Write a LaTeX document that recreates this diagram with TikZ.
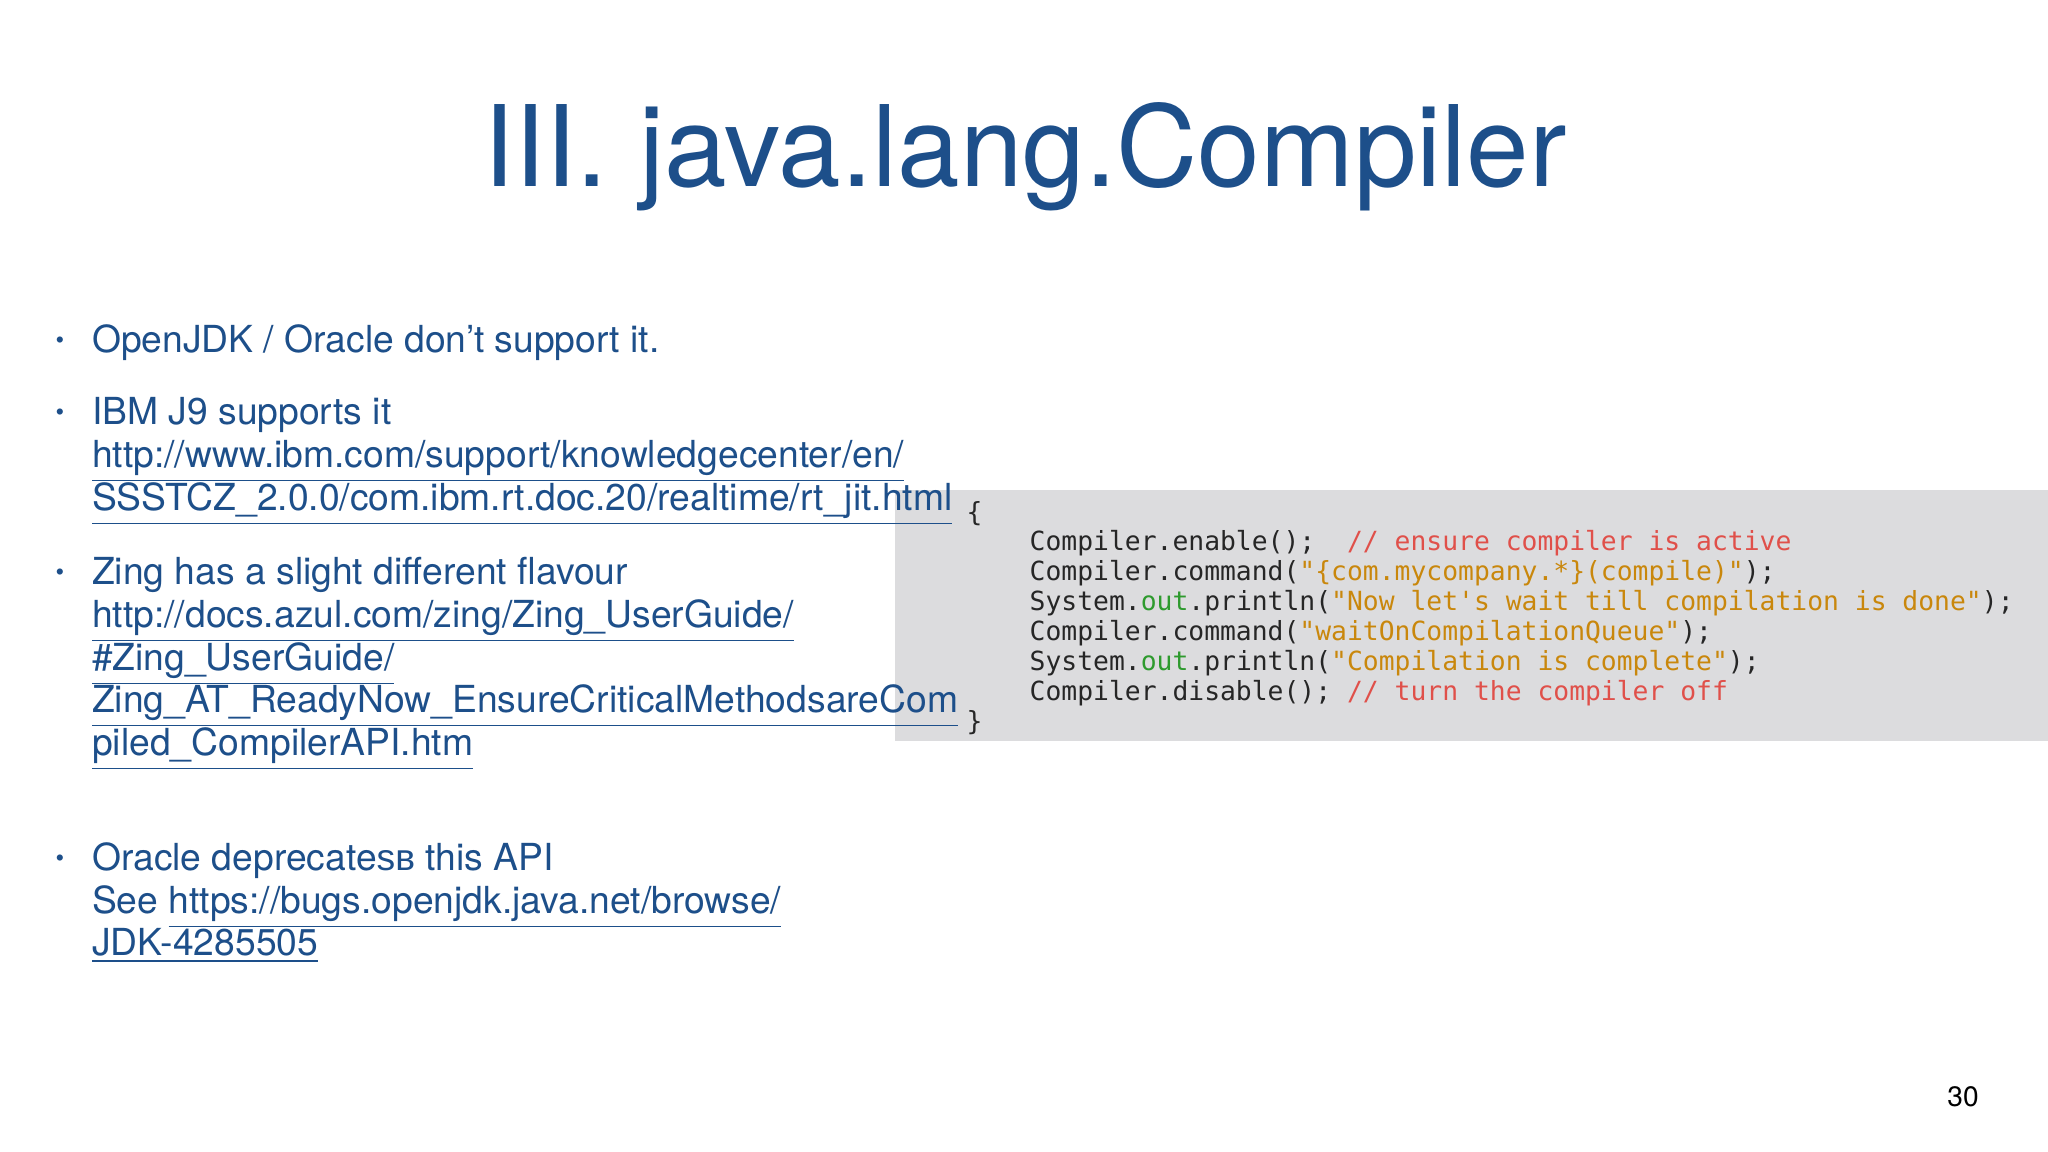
\documentclass[tikz,border=0pt]{standalone}
\usepackage{fontspec}
\setmainfont{TeX Gyre Heros}
\newfontfamily\cyrfont{Liberation Sans}
\setmonofont{DejaVu Sans Mono}
\definecolor{tblue}{HTML}{1D4F8A}
\definecolor{cred}{HTML}{E0504A}
\definecolor{corange}{HTML}{C9870C}
\definecolor{cgreen}{HTML}{2E9A2E}
\definecolor{boxgray}{HTML}{DCDCDE}
\begin{document}
\begin{tikzpicture}[x=1cm,y=-1cm,
  txt/.style={anchor=mid west,inner sep=0,font=\fontsize{10.6pt}{12pt}\selectfont,text=tblue},
  bul/.style={anchor=center,inner sep=0,font=\fontsize{7pt}{8pt}\selectfont,text=tblue},
  code/.style={anchor=mid west,inner sep=0,font=\fontsize{7.5pt}{9pt}\ttfamily,text=black!85}]
\useasboundingbox[fill=white] (0,0) rectangle (20.48,11.52);
\fill[boxgray] (8.95,4.90) rectangle (20.48,7.41);
\node[anchor=center,inner sep=0,font=\fontsize{32pt}{38pt}\selectfont,text=tblue] (title) at (10.25,1.57) {III. java.lang.Compiler};
% bullets
\node[bul] (b1) at (0.60,3.43) {•};
\node[txt] (t1) at (0.914,3.435) {OpenJDK / Oracle don’t support it.};
\node[bul] (b2) at (0.60,4.15) {•};
\node[txt] (t2) at (0.914,4.15) {IBM J9 supports it};
\node[txt] (t3) at (0.914,4.58) {\underline{http://www.ibm.com/support/knowledgecenter/en/}};
\node[txt] (t4) at (0.914,5.01) {\underline{SSSTCZ\_2.0.0/com.ibm.rt.doc.20/realtime/rt\_jit.html}};
\node[bul] (b3) at (0.60,5.75) {•};
\node[txt] (t5) at (0.914,5.75) {Zing has a slight different flavour};
\node[txt] (t6) at (0.914,6.18) {\underline{http://docs.azul.com/zing/Zing\_UserGuide/}};
\node[txt] (t7) at (0.914,6.61) {\underline{\#Zing\_UserGuide/}};
\node[txt] (t8) at (0.914,7.03) {\underline{Zing\_AT\_ReadyNow\_EnsureCriticalMethodsareCom}};
\node[txt] (t9) at (0.914,7.46) {\underline{piled\_CompilerAPI.htm}};
\node[bul] (b4) at (0.60,8.61) {•};
\node[txt] (t10) at (0.914,8.61) {Oracle deprecate{\cyrfont s}{\cyrfont в} this API};
\node[txt] (t11) at (0.914,9.04) {See \underline{https://bugs.openjdk.java.net/browse/}};
\node[txt] (t12) at (0.914,9.46) {\underline{JDK-4285505}};
% code
\node[code] (c0) at (9.66,5.12) {\{};
\node[code] (c1) at (10.29,5.41) {Compiler.enable();\ \ \textcolor{cred}{//\ ensure\ compiler\ is\ active}};
\node[code] (c2) at (10.29,5.71) {Compiler.command(\textcolor{corange}{"\{com.mycompany.*\}(compile)"});};
\node[code] (c3) at (10.29,6.01) {System.\textcolor{cgreen}{out}.println(\textcolor{corange}{"Now\ let's\ wait\ till\ compilation\ is\ done"});};
\node[code] (c4) at (10.29,6.31) {Compiler.command(\textcolor{corange}{"waitOnCompilationQueue"});};
\node[code] (c5) at (10.29,6.61) {System.\textcolor{cgreen}{out}.println(\textcolor{corange}{"Compilation\ is\ complete"});};
\node[code] (c6) at (10.29,6.91) {Compiler.disable();\ \textcolor{cred}{//\ turn\ the\ compiler\ off}};
\node[code] (c7) at (9.66,7.21) {\}};
\node[anchor=center,inner sep=0,font=\fontsize{8pt}{9pt}\selectfont,text=black] (pg) at (19.63,10.97) {30};
\end{tikzpicture}
\end{document}
